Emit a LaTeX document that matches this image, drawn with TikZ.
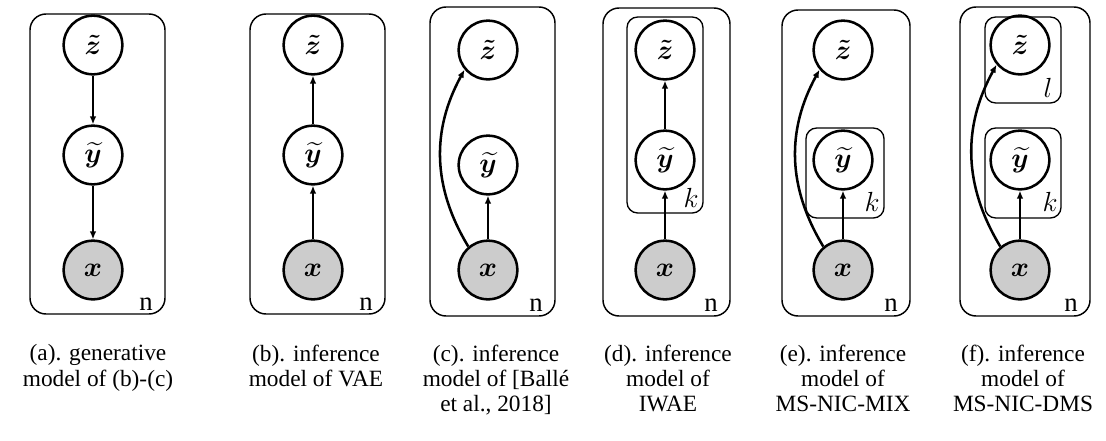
\documentclass[tikz,border=0pt]{standalone}
\usepackage{fontspec}
\setmainfont{Liberation Serif}
\usepackage{amsmath}
\usetikzlibrary{arrows.meta}
\begin{document}
\begin{tikzpicture}[x=0.75pt,y=-0.75pt,
  v/.style={circle,draw,line width=1.9pt,minimum size=44pt,inner sep=0pt,font=\fontsize{22}{22}\selectfont},
  obs/.style={v,fill=black!20},
  plate/.style={draw,line width=1.1pt,rounded corners=12pt},
  iplate/.style={draw,line width=1pt,rounded corners=8pt},
  e/.style={-{Latex[length=6pt,width=5pt]},line width=1.9pt},
  lab/.style={font=\fontsize{20}{20}\selectfont,anchor=base},
  captxt/.style={align=center,font=\fontsize{17.5}{19}\selectfont,anchor=north}]
\useasboundingbox (0,0) rectangle (1106,440);
% (a)
\draw[plate] (30,14) rectangle (165,314);
\node[v] (za) at (93,45) {$\boldsymbol{\tilde z}$};
\node[v] (ya) at (93,155) {$\boldsymbol{\widetilde y}$};
\node[obs] (xa) at (93,270) {$\boldsymbol{x}$};
\draw[e] (za) -- (ya); \draw[e] (ya) -- (xa);
\node[lab] (na) at (146,310) {n};
\node[captxt] (ca) at (98,340) {(a). generative\\model of (b)-(c)};
% (b)
\draw[plate] (250,14) rectangle (385,314);
\node[v] (zb) at (313,45) {$\boldsymbol{\tilde z}$};
\node[v] (yb) at (313,155) {$\boldsymbol{\widetilde y}$};
\node[obs] (xb) at (313,270) {$\boldsymbol{x}$};
\draw[e] (xb) -- (yb); \draw[e] (yb) -- (zb);
\node[lab] (nb) at (366,310) {n};
\node[captxt] (cb) at (316,340) {(b). inference\\model of VAE};
% (c)
\draw[plate] (430,7) rectangle (555,316);
\node[v] (zc) at (488,50) {$\boldsymbol{\tilde z}$};
\node[v] (yc) at (488,165) {$\boldsymbol{\widetilde y}$};
\node[obs] (xc) at (488,270) {$\boldsymbol{x}$};
\draw[e] (xc) -- (yc); \draw[e] (xc.130) to[bend left=30] (zc.220);
\node[lab] (nc) at (536,311) {n};
\node[captxt] (cc) at (496,340) {(c). inference\\model of [Ball\'e\\et al., 2018]};
% (d)
\draw[plate] (603,8) rectangle (730,316);
\draw[iplate] (627,17) rectangle (703,213);
\node[v] (zd) at (665,50) {$\boldsymbol{\tilde z}$};
\node[v] (yd) at (665,160) {$\boldsymbol{\widetilde y}$};
\node[obs] (xd) at (665,270) {$\boldsymbol{x}$};
\draw[e] (xd) -- (yd); \draw[e] (yd) -- (zd);
\node[lab] (kd) at (691,207) {$k$};
\node[lab] (nd) at (711,311) {n};
\node[captxt] (cd) at (668,340) {(d). inference\\model of\\IWAE};
% (e)
\draw[plate] (782,10) rectangle (910,316);
\draw[iplate] (806,128) rectangle (884,218);
\node[v] (ze) at (843,50) {$\boldsymbol{\tilde z}$};
\node[v] (ye) at (843,160) {$\boldsymbol{\widetilde y}$};
\node[obs] (xe) at (843,270) {$\boldsymbol{x}$};
\draw[e] (xe) -- (ye); \draw[e] (xe.130) to[bend left=30] (ze.220);
\node[lab] (ke) at (872,211) {$k$};
\node[lab] (ne) at (891,311) {n};
\node[captxt] (ce) at (843,340) {(e). inference\\model of\\MS-NIC-MIX};
% (f)
\draw[plate] (960,7) rectangle (1090,316);
\draw[iplate] (985,17) rectangle (1061,103);
\draw[iplate] (985,128) rectangle (1061,218);
\node[v] (zf) at (1020,45) {$\boldsymbol{\tilde z}$};
\node[v] (yf) at (1020,160) {$\boldsymbol{\widetilde y}$};
\node[obs] (xf) at (1020,270) {$\boldsymbol{x}$};
\draw[e] (xf) -- (yf); \draw[e] (xf.130) to[bend left=30] (zf.220);
\node[lab] (lf) at (1048,97) {$l$};
\node[lab] (kf) at (1050,211) {$k$};
\node[lab] (nf) at (1071,311) {n};
\node[captxt] (cf) at (1023,340) {(f). inference\\model of\\MS-NIC-DMS};
\end{tikzpicture}
\end{document}
